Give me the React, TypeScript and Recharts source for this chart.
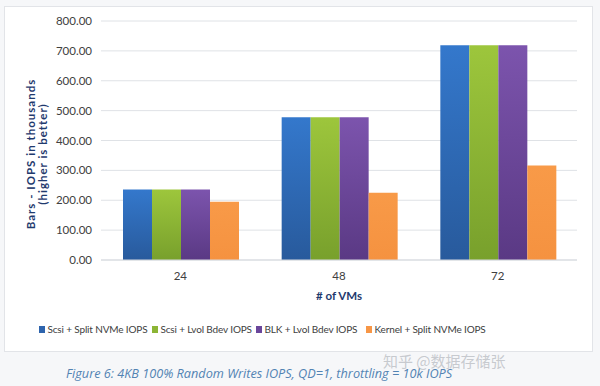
import { BarChart, Bar, XAxis, YAxis, CartesianGrid, Label } from "recharts";

document.body.style.margin = "0";

const categories = ["24", "48", "72"];
const scsiSplitNvme = [236, 478, 719];
const scsiLvolBdev = [236, 478, 719];
const blkLvolBdev = [236, 478, 719];
const kernelSplitNvme = [195, 225, 316];
const yTicks = [0, 100, 200, 300, 400, 500, 600, 700, 800];

const data = categories.map((vms, i) => ({
  vms,
  scsiSplit: scsiSplitNvme[i],
  scsiLvol: scsiLvolBdev[i],
  blkLvol: blkLvolBdev[i],
  kernelSplit: kernelSplitNvme[i],
}));

const FONT = "Lato, 'Open Sans', sans-serif";

const series = [
  { key: "scsiSplit", name: "Scsi + Split NVMe IOPS", top: "#3478cc", bottom: "#285a9c", legend: "#2e64ad", lx: 39 },
  { key: "scsiLvol", name: "Scsi + Lvol Bdev IOPS", top: "#9dc63c", bottom: "#78a02c", legend: "#8cb535", lx: 152 },
  { key: "blkLvol", name: "BLK + Lvol Bdev IOPS", top: "#7c54ad", bottom: "#5a3984", legend: "#6a469b", lx: 256 },
  { key: "kernelSplit", name: "Kernel + Split NVMe IOPS", top: "#f89a48", bottom: "#f59240", legend: "#f79646", lx: 366 },
];

export default function App() {
  return (
    <div style={{ position: "relative", width: 600, height: 386, background: "#f6f7f9", fontFamily: FONT, overflow: "hidden" }}>
      <div
        style={{
          position: "absolute",
          left: 4,
          top: 6,
          width: 587,
          height: 344,
          background: "#ffffff",
          border: "1px solid #e2e4e8",
        }}
      />
      <div style={{ position: "absolute", left: 0, top: 0 }}>
        <BarChart
          width={600}
          height={386}
          data={data}
          margin={{ top: 21, right: 23, left: 0, bottom: 84 }}
          barGap={0}
          barCategoryGap={22}
        >
          <defs>
            {series.map((s) => (
              <linearGradient key={s.key} id={`grad-${s.key}`} x1="0" y1="0" x2="0" y2="1">
                <stop offset="0%" stopColor={s.top} />
                <stop offset="100%" stopColor={s.bottom} />
              </linearGradient>
            ))}
          </defs>
          <CartesianGrid vertical={false} stroke="#dfe2e6" />
          <XAxis
            dataKey="vms"
            height={42}
            tickLine={false}
            axisLine={{ stroke: "#d6d9de" }}
            tick={{ fill: "#404040", fontSize: 11.5, fontFamily: FONT }}
            tickMargin={6}
          >
            <Label
              value="# of VMs"
              position="insideBottom"
              offset={2}
              style={{ fill: "#1f3a6e", fontSize: 11.5, fontWeight: 700, fontFamily: FONT }}
            />
          </XAxis>
          <YAxis
            width={101}
            domain={[0, 800]}
            ticks={yTicks}
            tickFormatter={(v: number) => v.toFixed(2)}
            tickLine={false}
            axisLine={false}
            tickMargin={3}
            tick={{ fill: "#404040", fontSize: 11.5, fontFamily: FONT }}
          />
          {series.map((s) => (
            <Bar
              key={s.key}
              dataKey={s.key}
              name={s.name}
              fill={`url(#grad-${s.key})`}
              isAnimationActive={false}
            />
          ))}
        </BarChart>
      </div>
      <div
        style={{
          position: "absolute",
          left: 36,
          top: 154,
          transform: "translate(-50%, -50%) rotate(-90deg)",
          whiteSpace: "nowrap",
          textAlign: "center",
          color: "#1f3a6e",
          fontSize: 11.5,
          letterSpacing: 1,
          fontWeight: 700,
          lineHeight: "11.5px",
        }}
      >
        Bars - IOPS in thousands
        <br />
        (higher is better)
      </div>
      {series.map((s) => (
        <div
          key={s.key}
          style={{
            position: "absolute",
            left: s.lx,
            top: 321,
            display: "flex",
            alignItems: "center",
            fontSize: 10,
            letterSpacing: -0.15,
            color: "#404040",
            whiteSpace: "nowrap",
            lineHeight: "16px",
          }}
        >
          <span style={{ display: "inline-block", width: 6, height: 7, background: s.legend, marginRight: 2.5 }} />
          <span>{s.name}</span>
        </div>
      ))}
      <div
        style={{
          position: "absolute",
          left: 66,
          top: 364,
          whiteSpace: "nowrap",
          fontStyle: "italic",
          fontSize: 12.7,
          lineHeight: "18px",
          fontFamily: "'Open Sans', sans-serif",
          color: "#5283b3",
        }}
      >
        Figure 6: 4KB 100% Random Writes IOPS, QD=1, throttling = 10k IOPS
      </div>
      <div
        style={{
          position: "absolute",
          left: 383,
          top: 350,
          fontSize: 15,
          lineHeight: "22px",
          color: "rgba(178,182,188,0.7)",
          fontFamily: "'Noto Sans CJK SC', sans-serif",
          whiteSpace: "nowrap",
        }}
      >
        知乎 @数据存储张
      </div>
    </div>
  );
}
